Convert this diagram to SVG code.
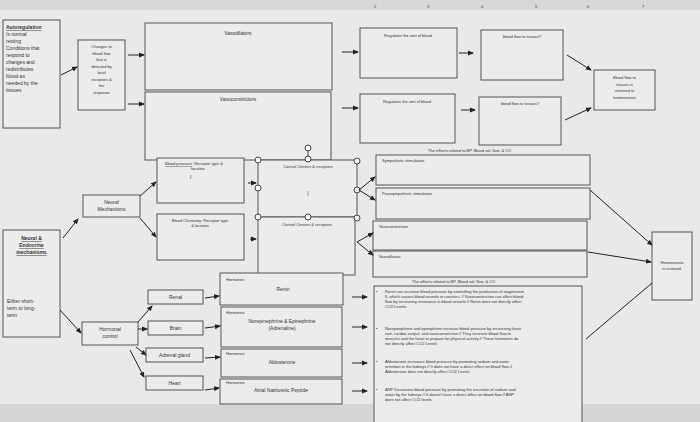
<svg xmlns="http://www.w3.org/2000/svg" width="700" height="422" viewBox="0 0 700 422">
<defs>
<marker id="ah" markerWidth="6" markerHeight="6" refX="5" refY="3" orient="auto" markerUnits="userSpaceOnUse"><path d="M0,0.5 L6,3 L0,5.5z" fill="#222"/></marker>
<style>
.b{fill:#ececec;stroke:#555;stroke-width:1}
.t{font-family:"Liberation Sans",Arial,sans-serif;font-size:5px;fill:#333}
.s{font-family:"Liberation Sans",Arial,sans-serif;font-size:4px;fill:#333}
.m{font-family:"Liberation Sans",Arial,sans-serif;font-size:6px;fill:#333}
.c{text-anchor:middle}
#conn line{stroke:#222;stroke-width:1;marker-end:url(#ah)}
#conn .p{marker-end:none}
.o{fill:#f4f4f4;stroke:#444;stroke-width:1}
</style>
</defs>
<rect width="700" height="422" fill="#e9e9e9"/>
<rect width="700" height="10" fill="#d8d8d8"/>
<g class="s" font-size="5"><text x="374" y="8">2</text><text x="427" y="8">3</text><text x="481" y="8">4</text><text x="535" y="8">5</text><text x="587" y="8">6</text><text x="642" y="8">7</text></g>
<rect y="404" width="700" height="18" fill="#d6d6d6"/>

<g id="autoreg"><rect class="b" x="3" y="20" width="57" height="108"/>
<text class="t" x="6" y="29"><tspan text-decoration="underline" font-weight="bold">Autoregulation</tspan><tspan x="6" dy="7">Is normal</tspan><tspan x="6" dy="7">resting</tspan><tspan x="6" dy="7">Conditions that</tspan><tspan x="6" dy="7">respond to</tspan><tspan x="6" dy="7">changes and</tspan><tspan x="6" dy="7">redistributes</tspan><tspan x="6" dy="7">blood as</tspan><tspan x="6" dy="7">needed by the</tspan><tspan x="6" dy="7">tissues</tspan></text></g>
<g id="changes"><rect class="b" x="78" y="40" width="47" height="70"/>
<text class="s c" x="101.5" y="48"><tspan>Changes to</tspan><tspan x="101.5" dy="6.5">blood flow</tspan><tspan x="101.5" dy="6.5">that is</tspan><tspan x="101.5" dy="6.5">detected by</tspan><tspan x="101.5" dy="6.5">local</tspan><tspan x="101.5" dy="6.5">receptors &amp;</tspan><tspan x="101.5" dy="6.5">the</tspan><tspan x="101.5" dy="6.5">response</tspan></text></g>
<g id="vasodil"><rect class="b" x="145" y="23" width="187" height="67"/><text class="t c" x="238" y="35">Vasodilators</text></g>
<g id="vasocon"><rect class="b" x="145" y="92" width="186" height="68"/><text class="t c" x="238" y="101">Vasoconstrictors</text></g>
<g id="reg1"><rect class="b" x="360" y="28" width="97" height="50"/><text class="s c" x="408" y="37">Regulates the amt of blood</text></g>
<g id="reg2"><rect class="b" x="360" y="94" width="95" height="49"/><text class="s c" x="407" y="103">Regulates the amt of blood</text></g>
<g id="bf1"><rect class="b" x="481" y="30" width="82" height="50"/><text class="s c" x="522" y="38">blood flow to tissues?</text></g>
<g id="bf2"><rect class="b" x="479" y="97" width="82" height="48"/><text class="s c" x="520" y="105">blood flow to tissues?</text></g>
<g id="ret"><rect class="b" x="594" y="70" width="61" height="40"/><text class="s c" x="624.5" y="79"><tspan>Blood flow to</tspan><tspan x="624.5" dy="6.5">tissues is</tspan><tspan x="624.5" dy="6.5">returned to</tspan><tspan x="624.5" dy="6.5">homeostasis</tspan></text></g>

<g id="neuendo"><rect class="b" x="3" y="230" width="57" height="107"/>
<text class="t c" x="31.5" y="240" font-weight="bold" text-decoration="underline"><tspan>Neural &amp;</tspan><tspan x="31.5" dy="7">Endocrine</tspan><tspan x="31.5" dy="7">mechanisms</tspan></text>
<text class="t" x="7" y="303"><tspan>Either short-</tspan><tspan x="7" dy="7">term or long-</tspan><tspan x="7" dy="7">term</tspan></text></g>
<g id="neural"><rect class="b" x="83" y="195" width="57" height="22"/><text class="t c" x="111.5" y="204"><tspan>Neural</tspan><tspan x="111.5" dy="7">Mechanisms</tspan></text></g>
<g id="bp"><rect class="b" x="157" y="158" width="87" height="45"/><text class="s" x="165" y="165"><tspan text-decoration="underline">Blood pressure</tspan>: Receptor type &amp;</text><text class="s" x="191" y="170">location</text><text class="t" x="190" y="179">I</text></g>
<g id="bchem"><rect class="b" x="157" y="214" width="87" height="46"/><text class="s c" x="200" y="222"><tspan>Blood Chemistry: Receptor type</tspan><tspan x="200" dy="5">&amp; location</tspan></text></g>
<g id="cc1"><rect class="b" x="258" y="160" width="99" height="57"/><text class="s c" x="308" y="168">Control Centers &amp; receptors</text><text class="t c" x="308" y="195">|</text></g>
<g id="cc2"><rect class="b" x="258" y="217" width="97" height="58"/><text class="s c" x="307" y="226">Control Centers &amp; receptors</text></g>
<g id="handles"><circle class="o" cx="258" cy="160" r="3"/><circle class="o" cx="308" cy="159" r="3"/><circle class="o" cx="357" cy="161" r="3"/><circle class="o" cx="258" cy="188" r="3"/><circle class="o" cx="357" cy="190" r="3"/><circle class="o" cx="258" cy="217" r="3"/><circle class="o" cx="308" cy="217" r="3"/><circle class="o" cx="357" cy="218" r="3"/><circle class="o" cx="308" cy="148" r="3"/><line x1="308" y1="151" x2="308" y2="156" stroke="#444"/></g>
<text class="s" x="428" y="152">The effects related to BP, Blood vol. flow, &amp; CO</text>
<g id="symp"><rect class="b" x="376" y="155" width="214" height="30"/><text class="s" x="382" y="162">Sympathetic stimulation</text></g>
<g id="para"><rect class="b" x="376" y="188" width="214" height="31"/><text class="s" x="382" y="195">Parasympathetic stimulation</text></g>
<g id="vcon"><rect class="b" x="373" y="221" width="214" height="29"/><text class="s" x="379" y="228">Vasoconstriction</text></g>
<g id="vdil"><rect class="b" x="373" y="251" width="214" height="26"/><text class="s" x="379" y="258">Vasodilation</text></g>
<g id="homeo"><rect class="b" x="652" y="232" width="40" height="68"/><text class="s c" x="672" y="264"><tspan>Homeostasis</tspan><tspan x="672" dy="5.5">is restored.</tspan></text></g>

<g id="hormonal"><rect class="b" x="82" y="322" width="56" height="23"/><text class="t c" x="110" y="331"><tspan>Hormonal</tspan><tspan x="110" dy="7">control</tspan></text></g>
<g id="renal"><rect class="b" x="148" y="290" width="55" height="14"/><text class="t c" x="175.5" y="299">Renal</text></g>
<g id="brain"><rect class="b" x="148" y="321" width="55" height="14"/><text class="t c" x="175.5" y="330">Brain</text></g>
<g id="adrenal"><rect class="b" x="146" y="348" width="57" height="14"/><text class="t c" x="174.5" y="357">Adrenal gland</text></g>
<g id="heart"><rect class="b" x="146" y="376" width="57" height="14"/><text class="t c" x="174.5" y="385">Heart</text></g>
<g id="renin"><rect class="b" x="220" y="273" width="123" height="32"/><text class="s" x="226" y="281" font-size="3.5">Hormones</text><text class="t c" x="283" y="291">Renin</text></g>
<g id="ne"><rect class="b" x="221" y="307" width="121" height="40"/><text class="s" x="226" y="314" font-size="3.5">Hormones</text><text class="t c" x="282" y="323"><tspan>Norepinephrine &amp; Epinephrine</tspan><tspan x="282" dy="7">(Adrenaline)</tspan></text></g>
<g id="aldo"><rect class="b" x="221" y="349" width="121" height="28"/><text class="s" x="226" y="355" font-size="3.5">Hormones</text><text class="t c" x="282" y="364">Aldosterone</text></g>
<g id="anp"><rect class="b" x="220" y="379" width="122" height="25"/><text class="s" x="226" y="384" font-size="3.5">Hormones</text><text class="t c" x="281" y="392">Atrial Natriuretic Peptide</text></g>
<text class="s" x="412" y="283">The affects related to BP, Blood vol. flow, &amp; CO</text>
<g id="effects"><rect class="b" x="374" y="286" width="208" height="140"/>
<g class="s" font-size="3.6">
<text x="376" y="293">•</text><text x="385" y="293"><tspan>Renin can increase blood pressure by controlling the production of angiotensin</tspan><tspan x="385" dy="5">II, which causes blood vessels to constrict.  // Vasoconstriction can affect blood</tspan><tspan x="385" dy="5">flow by increasing resistance in blood vessels  // Renin does not directly affect</tspan><tspan x="385" dy="5">CO2 Levels.</tspan></text>
<text x="376" y="330">•</text><text x="385" y="330"><tspan>Norepinephrine and epinephrine increase blood pressure by increasing heart</tspan><tspan x="385" dy="5">rate, cardiac output, and vasoconstriction // They increase blood flow to</tspan><tspan x="385" dy="5">muscles and the heart to prepare for physical activity // These hormones do</tspan><tspan x="385" dy="5">not directly affect CO2 Levels</tspan></text>
<text x="376" y="363">•</text><text x="385" y="363"><tspan>Aldosterone increases blood pressure by promoting sodium and water</tspan><tspan x="385" dy="5">retention in the kidneys // It does not have a direct effect on blood flow //</tspan><tspan x="385" dy="5">Aldosterone does not directly affect CO2 Levels</tspan></text>
<text x="376" y="391">•</text><text x="385" y="391"><tspan>ANP Decreases blood pressure by promoting the excretion of sodium and</tspan><tspan x="385" dy="5">water by the kidneys // It doesn't have a direct affect on blood flow // ANP</tspan><tspan x="385" dy="5">does not affect CO2 levels</tspan></text>
</g></g>

<g id="conn">
<line x1="61" y1="75" x2="77" y2="67"/>
<line x1="128" y1="55" x2="144" y2="55"/>
<line x1="128" y1="104" x2="144" y2="104"/>
<line x1="342" y1="52" x2="358" y2="52"/>
<line x1="342" y1="108" x2="358" y2="108"/>
<line x1="459" y1="53" x2="473" y2="53"/>
<line x1="461" y1="110" x2="475" y2="110"/>
<line x1="567" y1="55" x2="591" y2="70"/>
<line x1="565" y1="120" x2="591" y2="108"/>
<line x1="63" y1="238" x2="78" y2="219"/>
<line x1="140" y1="196" x2="156" y2="182"/>
<line x1="140" y1="218" x2="156" y2="237"/>
<line x1="248" y1="183" x2="256" y2="183"/>
<line x1="250" y1="239" x2="256" y2="239"/>
<line x1="359" y1="190" x2="375" y2="177"/>
<line x1="359" y1="190" x2="375" y2="200"/>
<line x1="357" y1="242" x2="373" y2="233"/>
<line x1="357" y1="242" x2="373" y2="255"/>
<line x1="590" y1="190" x2="652" y2="245"/>
<line x1="588" y1="252" x2="651" y2="262"/>
<line class="p" x1="586" y1="339" x2="652" y2="283"/>
<line x1="60" y1="310" x2="81" y2="333"/>
<line x1="138" y1="322" x2="152" y2="306"/>
<line x1="138" y1="329" x2="147" y2="329"/>
<line x1="136" y1="347" x2="146" y2="355"/>
<line x1="130" y1="350" x2="144" y2="377"/>
<line x1="205" y1="298" x2="219" y2="296"/>
<line x1="205" y1="328" x2="220" y2="326"/>
<line x1="205" y1="358" x2="220" y2="357"/>
<line x1="205" y1="390" x2="219" y2="388"/>
<line x1="352" y1="297" x2="367" y2="297"/>
<line x1="352" y1="327" x2="367" y2="327"/>
<line x1="352" y1="363" x2="367" y2="363"/>
<line x1="352" y1="391" x2="367" y2="391"/>
</g>
</svg>
